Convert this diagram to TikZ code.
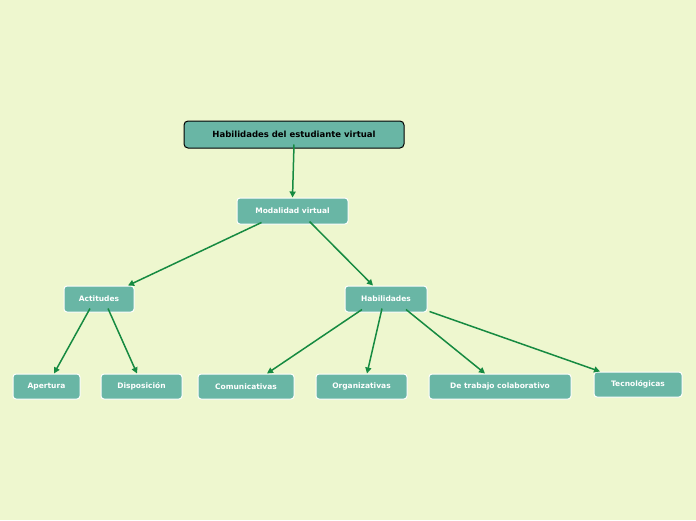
\documentclass[tikz,border=0pt]{standalone}
\usepackage{fontspec}
\setmainfont{DejaVu Sans}
\usetikzlibrary{arrows.meta}
\definecolor{bg}{HTML}{EEF7CF}
\definecolor{nodefill}{HTML}{69B6A5}
\definecolor{edge}{HTML}{168A41}
\tikzset{
 box/.style={draw=white, line width=1pt, fill=nodefill, rounded corners=3pt, minimum height=26pt, inner sep=0pt, text=white, font=\bfseries\fontsize{7.5}{9}\selectfont, drop shadow/.style={}},
 rootbox/.style={draw=black, line width=1pt, fill=nodefill, rounded corners=4pt, minimum height=27pt, minimum width=220pt, inner sep=0pt, text=black, font=\bfseries\fontsize{8.5}{10}\selectfont},
 conn/.style={draw=edge, line width=1.5pt, -{Triangle[length=6pt,width=6pt]}}
}
\begin{document}
\begin{tikzpicture}[x=1pt,y=-1pt]
\fill[bg] (0,0) rectangle (696,520);
\useasboundingbox (0,0) rectangle (696,520);
\node[rootbox] (root) at (294,134.5) {Habilidades del estudiante virtual};
\node[box, minimum width=111pt] (mv) at (292.5,211) {Modalidad virtual};
\node[box, minimum width=70pt] (act) at (99,299) {Actitudes};
\node[box, minimum width=82pt] (hab) at (386,299) {Habilidades};
\node[box, minimum width=67pt, minimum height=25pt] (ape) at (46.5,386.5) {Apertura};
\node[box, minimum width=81pt, minimum height=25pt] (dis) at (141.5,386.5) {Disposición};
\node[box, minimum width=96pt, minimum height=25pt] (com) at (246,386.5) {Comunicativas};
\node[box, minimum width=91pt, minimum height=25pt] (org) at (361.5,386.5) {Organizativas};
\node[box, minimum width=142pt, minimum height=25pt] (dtc) at (500,386.5) {De trabajo colaborativo};
\node[box, minimum width=88pt, minimum height=25pt] (tec) at (638,384.5) {Tecnológicas};
\draw[conn] ([yshift=4pt]root.south) -- (mv.north);
\draw[conn] ([xshift=-31pt,yshift=2pt]mv.south) -- ([xshift=29pt]act.north);
\draw[conn] ([xshift=17pt,yshift=3pt]mv.south) -- ([xshift=-13pt]hab.north);
\draw[conn] ([xshift=-9pt,yshift=4pt]act.south) -- ([xshift=7.5pt]ape.north);
\draw[conn] ([xshift=9pt,yshift=4pt]act.south) -- ([xshift=-4.5pt]dis.north);
\draw[conn] ([xshift=-24pt,yshift=3pt]hab.south) -- ([xshift=21pt]com.north);
\draw[conn] ([xshift=-4pt,yshift=4pt]hab.south) -- ([xshift=5.5pt]org.north);
\draw[conn] ([xshift=20pt,yshift=3pt]hab.south) -- ([xshift=-15pt]dtc.north);
\draw[conn] ([xshift=2pt,yshift=1pt]hab.south east) -- ([xshift=-38pt]tec.north);
\end{tikzpicture}
\end{document}
